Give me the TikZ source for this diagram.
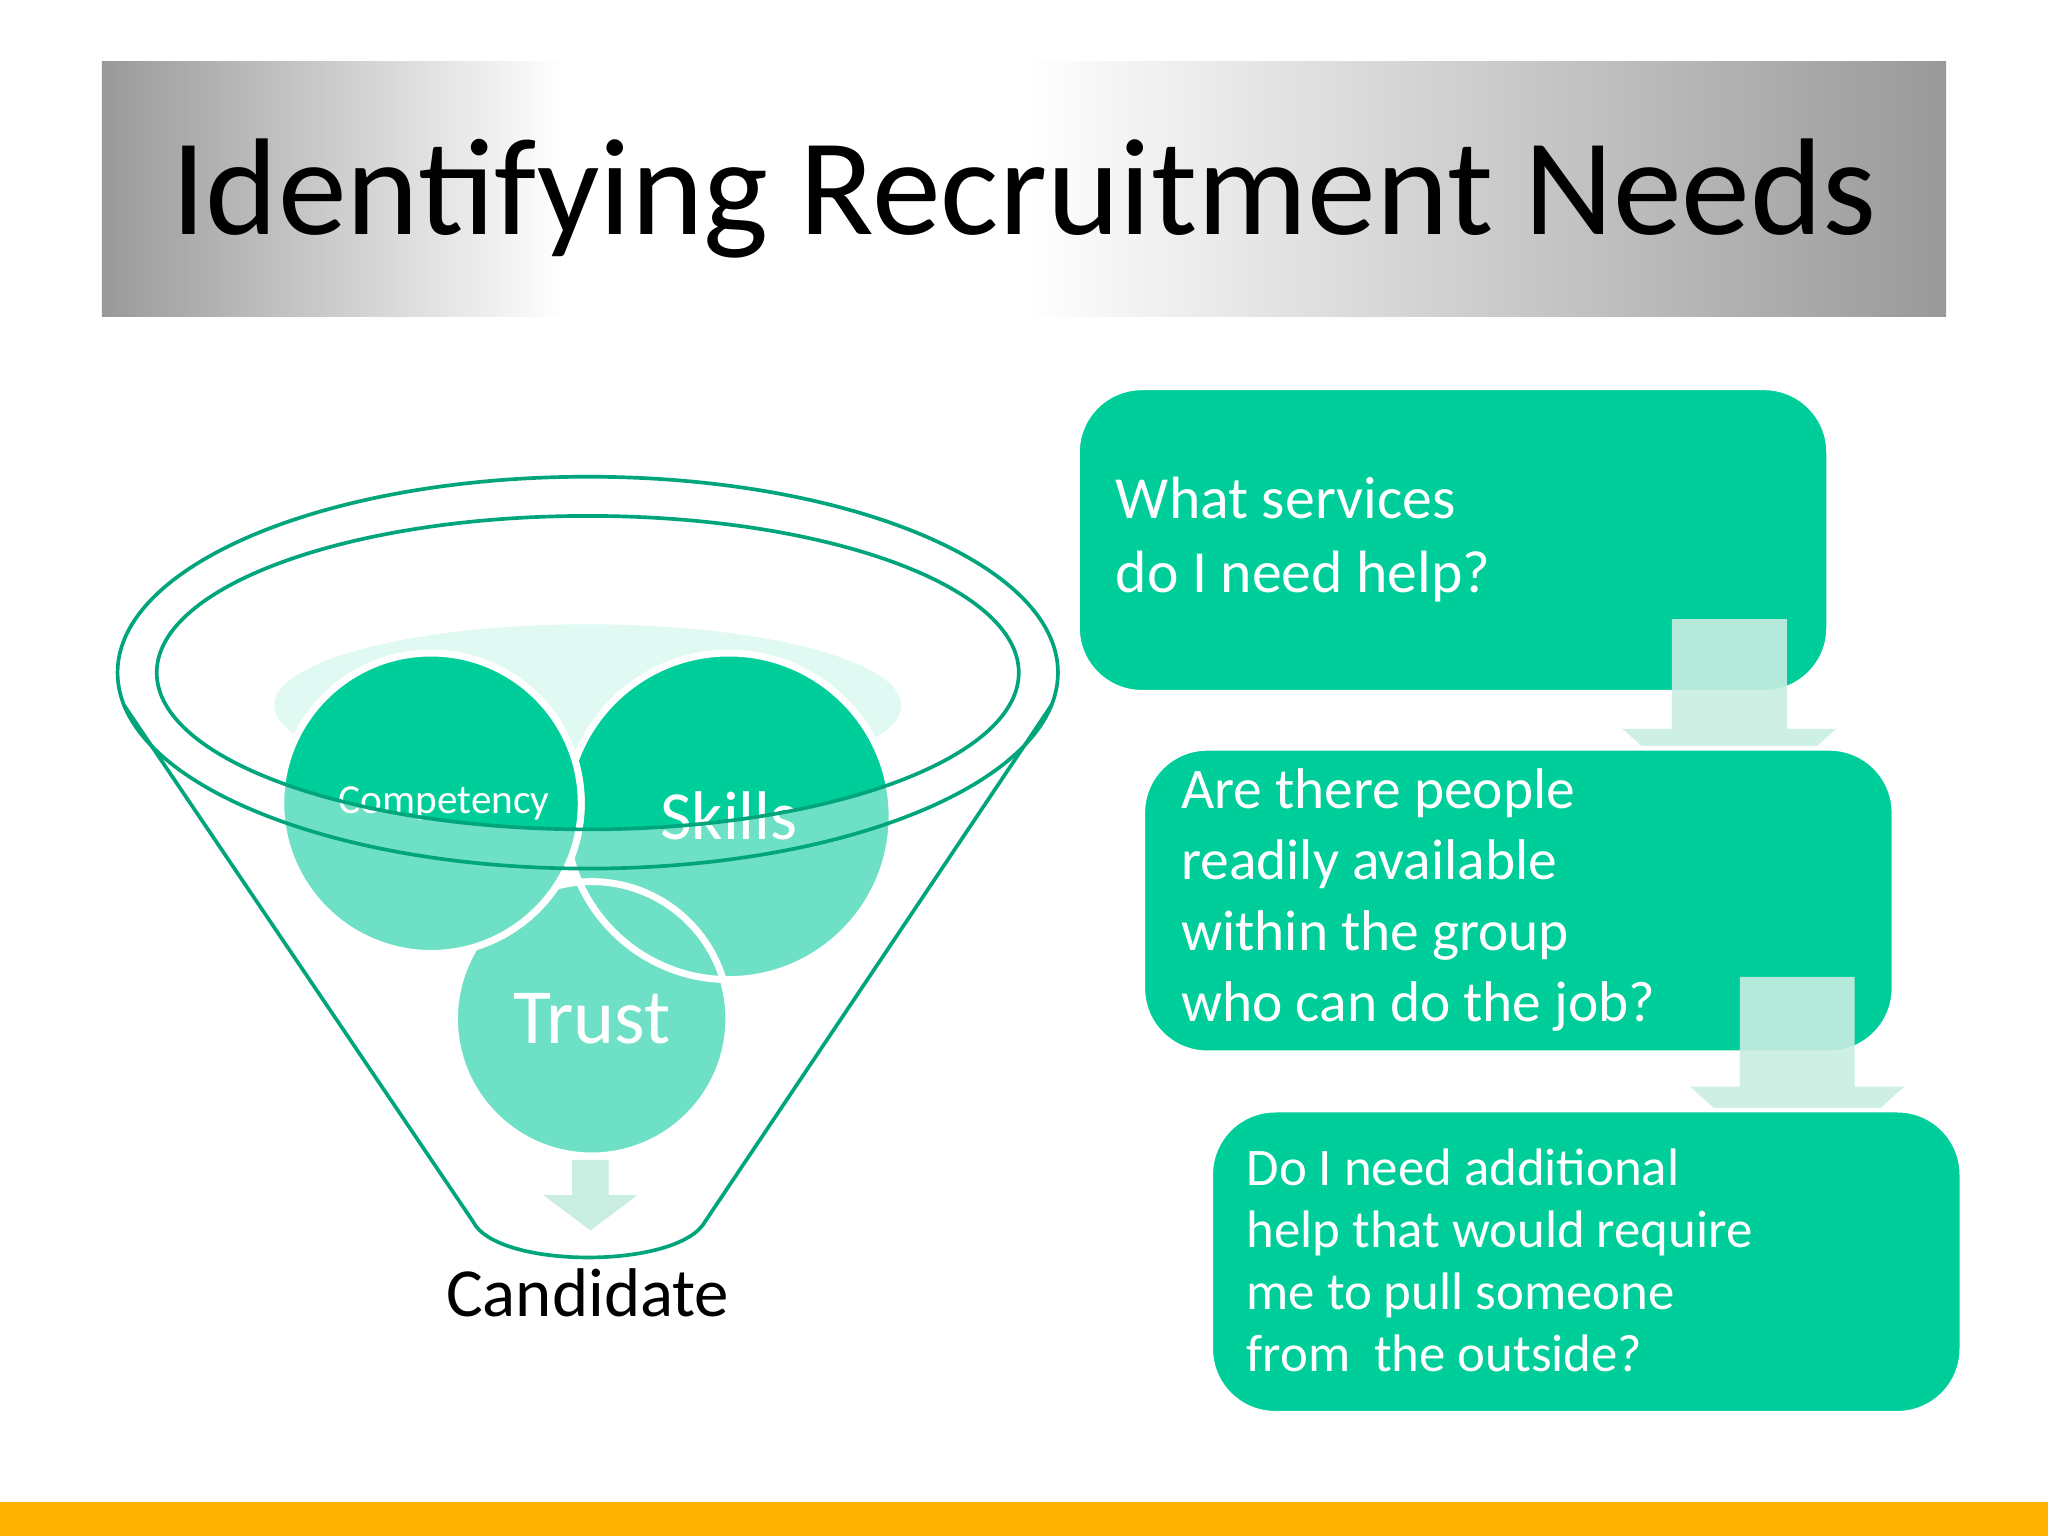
\documentclass[tikz,border=0pt]{standalone}
\usepackage{fontspec}
\setmainfont{Carlito}
\usetikzlibrary{positioning,shapes.geometric}
\definecolor{teal}{HTML}{00CE9A}
\definecolor{paleteal}{HTML}{6EE0C6}
\definecolor{arrowteal}{HTML}{C9EEE1}
\definecolor{barorange}{HTML}{FFB300}
\tikzset{
  qbox/.style={fill=teal, draw=white, line width=1pt, rounded corners=14pt, text=white, align=left},
  ball/.style={fill=paleteal, draw=white, line width=1.5pt},
  funnel/.style={draw=teal!80!black, line width=0.8pt}
}
\begin{document}
\begin{tikzpicture}[x=0.01cm,y=-0.01cm]
\useasboundingbox (0,0) rectangle (1568,1176);
\fill[white] (0,0) rectangle (1568,1176);
% title bar
\shade[left color=gray!80, right color=white, middle color=white] (78,47) rectangle (784,242);
\shade[left color=white, right color=gray!80] (784,47) rectangle (1490,242);
\node[font=\fontsize{30}{36}\selectfont] (title) at (784,152) {Identifying Recruitment Needs};
\fill[barorange] (0,1150) rectangle (1568,1176);
% funnel
\fill[teal!12] (450,540) ellipse (240 and 62);
\fill[paleteal] (330,615) circle (115) (558,625) circle (125) (453,780) circle (105);
\begin{scope}
  \clip (450,515) ellipse (330 and 120);
  \fill[teal] (330,615) circle (115) (558,625) circle (125);
\end{scope}
\draw[draw=white, line width=1.5pt] (330,615) circle (115) (558,625) circle (125);
\draw[draw=white, line width=1.5pt] (453,780) circle (105);
\fill[paleteal] (330,615) circle (113);
\begin{scope}
  \clip (450,515) ellipse (330 and 120);
  \fill[teal] (330,615) circle (113);
\end{scope}
\draw[white, line width=1.5pt] (330,615) circle (115);
\node[text=white, font=\fontsize{9}{10}\selectfont] (comp) at (340,615) {Competency};
\node[text=white, font=\fontsize{15}{18}\selectfont] (skills) at (558,625) {Skills};
\node[text=white, font=\fontsize{17}{20}\selectfont] (trust) at (453,780) {Trust};
\draw[funnel] (450,515) ellipse (360 and 150);
\draw[funnel] (450,515) ellipse (330 and 120);
\draw[funnel] (95,540) -- (362,935) .. controls (380,972) and (520,972) .. (540,935) -- (805,540);
\fill[arrowteal] (438,888) -- (466,888) -- (466,915) -- (488,915) -- (452,942) -- (416,915) -- (438,915) -- cycle;
\node[font=\fontsize{15}{18}\selectfont] (cand) at (450,990) {Candidate};
% question boxes
\draw[qbox] (825,297) rectangle (1400,530);
\node[text=white, align=left, anchor=west, font=\fontsize{13}{16}\selectfont] (q1) at (842,413) {What services\\do I need help?};
\fill[arrowteal, opacity=0.9] (1280,474) -- (1368,474) -- (1368,558) -- (1406,558) -- (1324,630) -- (1242,558) -- (1280,558) -- cycle;
\draw[qbox] (875,573) rectangle (1450,806);
\node[text=white, align=left, anchor=west, font=\fontsize{12.5}{15.5}\selectfont] (q2) at (892,689) {Are there people\\readily available\\within the group\\who can do the job?};
\fill[arrowteal, opacity=0.9] (1332,748) -- (1420,748) -- (1420,832) -- (1458,832) -- (1376,905) -- (1294,832) -- (1332,832) -- cycle;
\draw[qbox] (927,850) rectangle (1502,1082);
\node[text=white, align=left, anchor=west, font=\fontsize{11.5}{13.5}\selectfont] (q3) at (942,965) {Do I need additional\\help that would require\\me to pull someone\\from~ the outside?};
\end{tikzpicture}
\end{document}
